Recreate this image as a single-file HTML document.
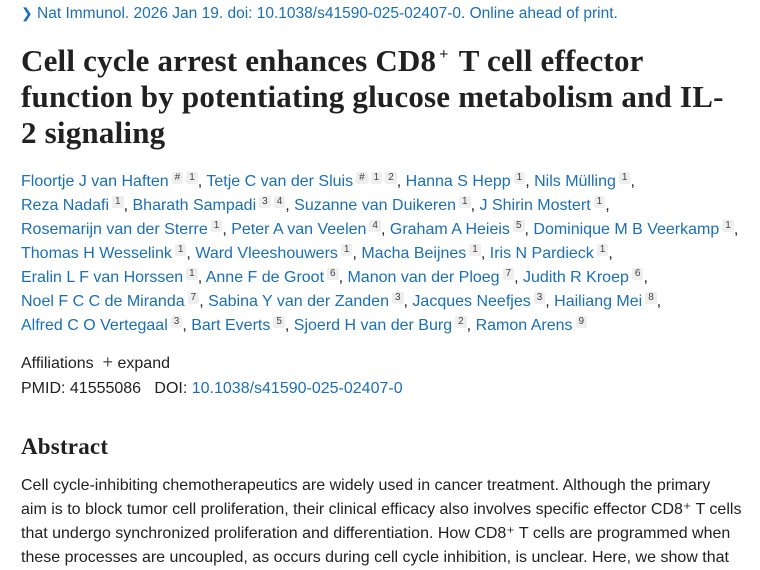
<!DOCTYPE html>
<html><head><meta charset="utf-8"><style>
body{margin:0;width:760px;height:570px;overflow:hidden;background:#fff;font-family:"Liberation Sans",sans-serif;color:#212121;position:relative}
.l{position:absolute;left:21px;white-space:nowrap;font-size:16px;letter-spacing:0;line-height:24px}
a{color:#1a6fb5;text-decoration:none}
sup{display:inline-block;background:#eee;color:#444;font-size:10px;letter-spacing:0;line-height:12px;padding:0 3px;border-radius:2px;vertical-align:6px;margin-left:3px}
.t{position:absolute;left:21px;font-family:"Liberation Serif",serif;font-weight:bold;font-size:31px;letter-spacing:0.2px;line-height:36px;white-space:nowrap;color:#212121}
</style></head><body>
<div class="l" style="top:1px;font-size:15.5px"><a href="#"><span style="font-size:14px">&#x276F;</span> Nat Immunol. 2026 Jan 19. doi: 10.1038/s41590-025-02407-0. Online ahead of print.</a></div>
<div>
<div class="t" style="top:43px">Cell cycle arrest enhances CD8<sup style="background:none;font-size:16px;vertical-align:12px;color:#212121;margin-left:0">+</sup> T cell effector</div>
<div class="t" style="top:79px">function by potentiating glucose metabolism and IL-</div>
<div class="t" style="top:115px">2 signaling</div>
</div>
<div>
<div class="l" style="top:170px"><a href="#">Floortje J van Haften</a><sup>#</sup><sup>1</sup>, <a href="#">Tetje C van der Sluis</a><sup>#</sup><sup>1</sup><sup>2</sup>, <a href="#">Hanna S Hepp</a><sup>1</sup>, <a href="#">Nils Mülling</a><sup>1</sup>,</div>
<div class="l" style="top:194px"><a href="#">Reza Nadafi</a><sup>1</sup>, <a href="#">Bharath Sampadi</a><sup>3</sup><sup>4</sup>, <a href="#">Suzanne van Duikeren</a><sup>1</sup>, <a href="#">J Shirin Mostert</a><sup>1</sup>,</div>
<div class="l" style="top:218px"><a href="#">Rosemarijn van der Sterre</a><sup>1</sup>, <a href="#">Peter A van Veelen</a><sup>4</sup>, <a href="#">Graham A Heieis</a><sup>5</sup>, <a href="#">Dominique M B Veerkamp</a><sup>1</sup>,</div>
<div class="l" style="top:242px"><a href="#">Thomas H Wesselink</a><sup>1</sup>, <a href="#">Ward Vleeshouwers</a><sup>1</sup>, <a href="#">Macha Beijnes</a><sup>1</sup>, <a href="#">Iris N Pardieck</a><sup>1</sup>,</div>
<div class="l" style="top:266px"><a href="#">Eralin L F van Horssen</a><sup>1</sup>, <a href="#">Anne F de Groot</a><sup>6</sup>, <a href="#">Manon van der Ploeg</a><sup>7</sup>, <a href="#">Judith R Kroep</a><sup>6</sup>,</div>
<div class="l" style="top:290px"><a href="#">Noel F C C de Miranda</a><sup>7</sup>, <a href="#">Sabina Y van der Zanden</a><sup>3</sup>, <a href="#">Jacques Neefjes</a><sup>3</sup>, <a href="#">Hailiang Mei</a><sup>8</sup>,</div>
<div class="l" style="top:314px"><a href="#">Alfred C O Vertegaal</a><sup>3</sup>, <a href="#">Bart Everts</a><sup>5</sup>, <a href="#">Sjoerd H van der Burg</a><sup>2</sup>, <a href="#">Ramon Arens</a><sup>9</sup></div>
</div>
<div class="l" style="top:350px">Affiliations &nbsp;<span style="font-size:18px;color:#555">+</span> expand</div>
<div class="l" style="top:377px">PMID: 41555086 &nbsp;&nbsp;DOI: <a href="#">10.1038/s41590-025-02407-0</a></div>
<div class="t" style="top:432px;font-size:23px;line-height:30px">Abstract</div>
<div>
<div class="l" style="top:474px">Cell cycle-inhibiting chemotherapeutics are widely used in cancer treatment. Although the primary</div>
<div class="l" style="top:498px">aim is to block tumor cell proliferation, their clinical efficacy also involves specific effector CD8⁺ T cells</div>
<div class="l" style="top:522px">that undergo synchronized proliferation and differentiation. How CD8⁺ T cells are programmed when</div>
<div class="l" style="top:546px">these processes are uncoupled, as occurs during cell cycle inhibition, is unclear. Here, we show that</div>
</div>
</body></html>
